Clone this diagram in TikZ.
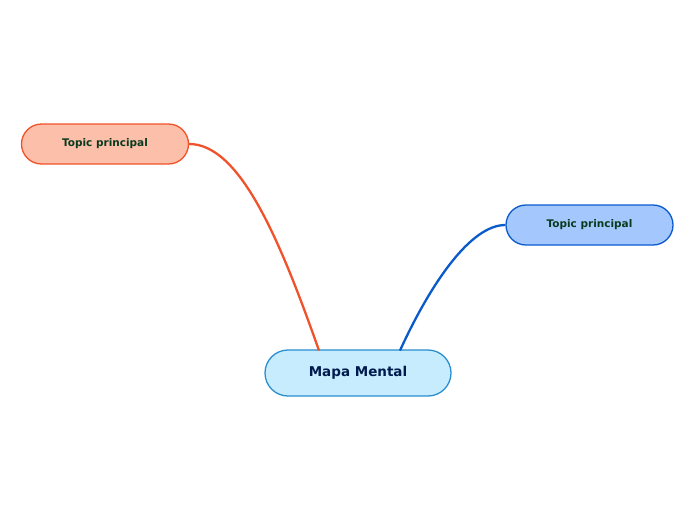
\documentclass[tikz,border=0pt]{standalone}
\usepackage{fontspec}
\setmainfont{DejaVu Sans}
\usetikzlibrary{shapes.misc}
\definecolor{cfill}{HTML}{C6ECFD}\definecolor{cdraw}{HTML}{2A8ECF}
\definecolor{ofill}{HTML}{FBBFAA}\definecolor{odraw}{HTML}{F0522A}
\definecolor{bfill}{HTML}{A4C8FE}\definecolor{bdraw}{HTML}{0A5ACC}
\definecolor{ctext}{HTML}{001A4D}\definecolor{ttext}{HTML}{0A3A1E}
\begin{document}
\begin{tikzpicture}[x=1pt,y=-1pt,
 topic/.style={rounded rectangle,draw,line width=1.3pt,minimum width=167pt,minimum height=40pt,font=\fontsize{10.5}{12}\selectfont\bfseries,text=ttext,inner sep=0pt},
 link/.style={line width=2.3pt}]
\useasboundingbox (0,0) rectangle (696,520);
\node[topic,fill=cfill,draw=cdraw,minimum width=186pt,minimum height=46pt,font=\fontsize{13.5}{16}\selectfont\bfseries,text=ctext] (c) at (358,373) {Mapa Mental};
\node[topic,fill=ofill,draw=odraw] (l) at (105,144) {Topic principal};
\node[topic,fill=bfill,draw=bdraw] (r) at (589.5,225) {Topic principal};
\coordinate (c1) at (319,350.5);
\coordinate (c2) at (400,350.5);
\draw[link,odraw] (l.east) .. controls (240,144) and (280,240) .. (c1);
\draw[link,bdraw] (r.west) .. controls (470,225) and (430,285) .. (c2);
\end{tikzpicture}
\end{document}
